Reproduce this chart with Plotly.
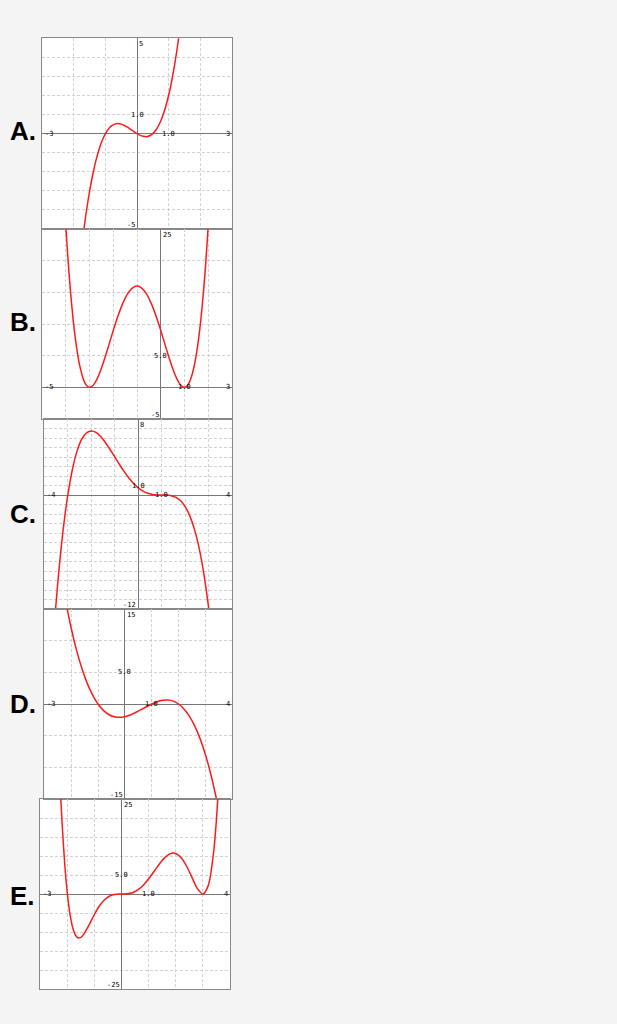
import plotly.graph_objects as go

W, H = 617, 1024

# ---------------- data ----------------
panel_names = ["A.", "B.", "C.", "D.", "E."]

A_x = [-1.7, -1.6, -1.5, -1.4, -1.3, -1.2, -1.1, -1.0, -0.9, -0.8, -0.7, -0.6, -0.5, -0.4,
       -0.3, -0.2, -0.1, 0.0, 0.1, 0.2, 0.3, 0.4, 0.5, 0.6, 0.7, 0.8, 0.9, 1.0, 1.1, 1.2, 1.3, 1.35]
A_y = [-5.24, -4.03, -3.0, -2.13, -1.40, -0.82, -0.35, 0.0, 0.25, 0.42, 0.50, 0.53, 0.50, 0.43,
       0.34, 0.22, 0.11, 0.0, -0.09, -0.14, -0.16, -0.11, 0.0, 0.19, 0.48, 0.86, 1.37, 2.0, 2.77, 3.70, 4.78, 5.4]

B_x = [-4.05, -4.0, -3.9, -3.8, -3.7, -3.6, -3.5, -3.4, -3.3, -3.2, -3.1, -3.0, -2.9, -2.8, -2.7,
       -2.6, -2.5, -2.4, -2.2, -2.0, -1.8, -1.6, -1.4, -1.2, -1.0, -0.8, -0.6, -0.4, -0.2, 0.0,
       0.2, 0.4, 0.5, 0.6, 0.7, 0.8, 0.9, 1.0, 1.1, 1.2, 1.3, 1.4, 1.5, 1.6, 1.7, 1.8, 1.9, 2.0, 2.05]
B_y = [27.9, 25.0, 19.45, 14.75, 10.82, 7.62, 5.06, 3.10, 1.66, 0.71, 0.17, 0.0, 0.15, 0.58, 1.23,
       2.07, 3.06, 4.16, 6.55, 9.0, 11.29, 13.25, 14.75, 15.68, 16.0, 15.68, 14.75, 13.25, 11.29, 9.0,
       6.55, 4.16, 3.06, 2.07, 1.23, 0.58, 0.15, 0.0, 0.17, 0.71, 1.66, 3.10, 5.06, 7.62, 10.82, 14.75, 19.45, 25.0, 27.9]

C_x = [-3.55, -3.5, -3.4, -3.3, -3.2, -3.1, -3.0, -2.8, -2.6, -2.4, -2.2, -2.0, -1.8, -1.6, -1.4,
       -1.2, -1.0, -0.8, -0.6, -0.4, -0.2, 0.0, 0.2, 0.4, 0.6, 0.8, 1.0, 1.2, 1.4, 1.6, 1.8, 2.0,
       2.2, 2.4, 2.6, 2.8, 3.0, 3.05]
C_y = [-12.95, -11.39, -8.52, -5.99, -3.70, -1.72, 0.0, 2.74, 4.67, 5.90, 6.55, 6.75, 6.59, 6.15, 5.53,
       4.79, 4.0, 3.21, 2.46, 1.78, 1.21, 0.75, 0.41, 0.18, 0.06, 0.01, 0.0, -0.01, -0.07, -0.25, -0.61, -1.25,
       -2.25, -3.70, -5.73, -8.46, -12.0, -13.0]

D_x = [-2.25, -2.2, -2.0, -1.8, -1.6, -1.4, -1.2, -1.0, -0.8, -0.6, -0.4, -0.2, 0.0, 0.2, 0.4,
       0.6, 0.8, 1.0, 1.2, 1.4, 1.6, 1.8, 2.0, 2.2, 2.4, 2.6, 2.8, 3.0, 3.2, 3.4, 3.5]
D_y = [17.3, 16.13, 12.0, 8.51, 5.62, 3.26, 1.41, 0.0, -1.01, -1.66, -2.02, -2.11, -2.0, -1.73, -1.34,
       -0.90, -0.43, 0.0, 0.35, 0.58, 0.62, 0.45, 0.0, -0.77, -1.90, -3.46, -5.47, -8.0, -11.09, -14.78, -16.9]

E_x = [-2.3, -2.25, -2.2, -2.1, -2.0, -1.9, -1.8, -1.7, -1.6, -1.5, -1.4, -1.2, -1.0, -0.8, -0.6,
       -0.4, -0.2, 0.0, 0.2, 0.4, 0.6, 0.8, 1.0, 1.2, 1.4, 1.6, 1.8, 1.9, 2.0, 2.2, 2.4, 2.6, 2.8,
       3.0, 3.2, 3.4, 3.5, 3.6]
E_y = [34.0, 26.2, 19.19, 8.03, 0.0, -5.49, -8.96, -10.85, -11.56, -11.39, -10.62, -8.13, -5.33, -2.96, -1.31,
       -0.39, -0.05, 0.0, 0.05, 0.35, 1.08, 2.31, 4.0, 5.97, 7.96, 9.63, 10.64, 10.79, 10.67, 9.54, 7.30, 4.31, 1.40,
       0.0, 2.27, 11.32, 19.65, 31.35]

# axis ranges and grid steps
x_ranges = [[-3, 3], [-5, 3], [-4, 4], [-3, 4], [-3, 4]]
y_ranges = [[-5, 5], [-5, 25], [-12, 8], [-15, 15], [-25, 25]]
x_steps = [1, 1, 1, 1, 1]
y_steps = [1, 5, 1, 5, 5]
# tick texts: left, right, top, bottom, y-mark, x-mark
tick_texts = [
    ["-3", "3", "5", "-5", "1.0", "1.0"],
    ["-5", "3", "25", "-5", "5.0", "1.0"],
    ["-4", "4", "8", "-12", "1.0", "1.0"],
    ["-3", "4", "15", "-15", "5.0", "1.0"],
    ["-3", "4", "25", "-25", "5.0", "1.0"],
]
y_marks = [1, 5, 1, 5, 5]
x_marks = [1, 1, 1, 1, 1]

series_x = [A_x, B_x, C_x, D_x, E_x]
series_y = [A_y, B_y, C_y, D_y, E_y]

# ---------------- layout geometry (pixels) ----------------
boxes = [  # left, right, top, bottom
    (42.3, 231.7, 38.3, 229.0),
    (42.3, 231.7, 229.0, 419.0),
    (44.3, 232.3, 419.0, 609.0),
    (44.3, 232.3, 609.0, 799.0),
    (40.3, 230.0, 799.0, 989.0),
]
label_y = [131, 322, 514, 704, 896]

fig = go.Figure()
layout = dict(
    width=W, height=H,
    margin=dict(l=0, r=0, t=0, b=0),
    paper_bgcolor="#f4f4f4",
    plot_bgcolor="#ffffff",
    showlegend=False,
)
annotations = []
tick_font = dict(family="DejaVu Sans Mono", size=7, color="#000000")

for i in range(5):
    n = "" if i == 0 else str(i + 1)
    l, r, t, b = boxes[i]
    axis_common = dict(
        tick0=0, showgrid=True, gridcolor="#d2d2d2", griddash="3px,2px", gridwidth=1,
        zeroline=True, zerolinecolor="#777777", zerolinewidth=1.2,
        showline=True, mirror=True, linecolor="#888888", linewidth=1,
        showticklabels=False, ticks="", fixedrange=True,
    )
    layout["xaxis" + n] = dict(domain=[l / W, r / W], range=x_ranges[i], anchor="y" + n,
                               dtick=x_steps[i], **axis_common)
    layout["yaxis" + n] = dict(domain=[1 - b / H, 1 - t / H], range=y_ranges[i], anchor="x" + n,
                               dtick=y_steps[i], **axis_common)
    fig.add_trace(go.Scatter(
        x=series_x[i], y=series_y[i], mode="lines",
        line=dict(color="#ff1a1a", width=1.5, shape="spline", smoothing=0.8),
        xaxis="x" + n, yaxis="y" + n, hoverinfo="skip",
    ))
    xr, yr = x_ranges[i], y_ranges[i]
    tt = tick_texts[i]
    xref, yref = "x" + n, "y" + n
    common = dict(xref=xref, yref=yref, showarrow=False, font=tick_font)
    annotations += [
        dict(x=xr[0], y=0, text=tt[0], xanchor="left", yanchor="middle", xshift=1, **common),
        dict(x=xr[1], y=0, text=tt[1], xanchor="right", yanchor="middle", **common),
        dict(x=0, y=yr[1], text=tt[2], xanchor="left", yanchor="top", **common),
        dict(x=0, y=yr[0], text=tt[3], xanchor="right", yanchor="bottom", yshift=-2, **common),
        dict(x=0, y=y_marks[i], text=tt[4], xanchor="center", yanchor="middle", **common),
        dict(x=x_marks[i], y=0, text=tt[5], xanchor="center", yanchor="middle", **common),
    ]
    annotations.append(dict(
        x=8 / W, y=1 - label_y[i] / H, xref="paper", yref="paper", text="<b>" + panel_names[i] + "</b>",
        xanchor="left", yanchor="middle", showarrow=False,
        font=dict(family="Liberation Sans", size=26, color="#000000"),
    ))

layout["annotations"] = annotations
fig.update_layout(**layout)
fig.write_html(
    "out.html",
    config={"displayModeBar": False},
    post_script="document.body.style.margin='0px';document.body.style.background='#f4f4f4';",
)
